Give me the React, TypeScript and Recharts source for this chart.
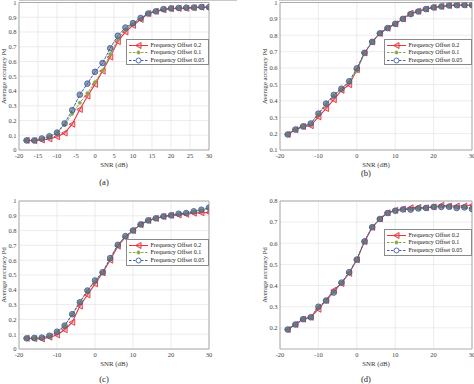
import React from 'react';
import { LineChart, Line, XAxis, YAxis, CartesianGrid, ReferenceArea, Legend, Label } from 'recharts';

const snr = [-18, -16, -14, -12, -10, -8, -6, -4, -2, 0, 2, 4, 6, 8, 10, 12, 14, 16, 18, 20, 22, 24, 26, 28, 30];

const aRed = [0.065, 0.063, 0.068, 0.075, 0.09, 0.115, 0.175, 0.275, 0.365, 0.445, 0.535, 0.63, 0.735, 0.8, 0.845, 0.885, 0.925, 0.94, 0.95, 0.958, 0.96, 0.96, 0.965, 0.968, 0.965];
const aGreen = [0.065, 0.065, 0.075, 0.09, 0.115, 0.17, 0.245, 0.32, 0.385, 0.46, 0.54, 0.65, 0.75, 0.815, 0.855, 0.89, 0.925, 0.94, 0.953, 0.96, 0.962, 0.963, 0.965, 0.968, 0.967];
const aBlue = [0.065, 0.065, 0.078, 0.093, 0.118, 0.18, 0.27, 0.375, 0.45, 0.53, 0.59, 0.69, 0.775, 0.83, 0.86, 0.895, 0.925, 0.94, 0.955, 0.96, 0.963, 0.965, 0.966, 0.97, 0.968];

const bRed = [0.195, 0.224, 0.243, 0.248, 0.302, 0.353, 0.407, 0.464, 0.498, 0.59, 0.692, 0.759, 0.811, 0.843, 0.869, 0.9, 0.935, 0.947, 0.96, 0.97, 0.976, 0.981, 0.984, 0.985, 0.983];
const bGreen = [0.195, 0.224, 0.243, 0.26, 0.318, 0.378, 0.43, 0.472, 0.515, 0.58, 0.692, 0.76, 0.811, 0.844, 0.87, 0.9, 0.93, 0.946, 0.96, 0.97, 0.976, 0.982, 0.984, 0.985, 0.984];
const bBlue = [0.195, 0.225, 0.244, 0.262, 0.322, 0.383, 0.436, 0.474, 0.519, 0.598, 0.693, 0.76, 0.812, 0.844, 0.87, 0.9, 0.929, 0.945, 0.96, 0.97, 0.976, 0.982, 0.984, 0.985, 0.984];

const cRed = [0.072, 0.07, 0.068, 0.08, 0.095, 0.13, 0.18, 0.29, 0.365, 0.44, 0.515, 0.6, 0.695, 0.755, 0.8, 0.84, 0.868, 0.882, 0.895, 0.903, 0.905, 0.91, 0.918, 0.92, 0.922];
const cGreen = [0.072, 0.073, 0.076, 0.088, 0.114, 0.155, 0.232, 0.313, 0.39, 0.455, 0.516, 0.61, 0.702, 0.76, 0.8, 0.84, 0.868, 0.882, 0.896, 0.903, 0.912, 0.917, 0.928, 0.938, 0.95];
const cBlue = [0.072, 0.074, 0.077, 0.09, 0.117, 0.158, 0.235, 0.316, 0.395, 0.463, 0.519, 0.614, 0.704, 0.763, 0.801, 0.842, 0.869, 0.883, 0.896, 0.903, 0.914, 0.919, 0.93, 0.941, 0.955];

const dRed = [0.192, 0.216, 0.241, 0.25, 0.288, 0.33, 0.378, 0.41, 0.458, 0.522, 0.608, 0.675, 0.715, 0.744, 0.756, 0.762, 0.768, 0.77, 0.768, 0.772, 0.78, 0.776, 0.776, 0.776, 0.78];
const dGreen = [0.192, 0.216, 0.241, 0.25, 0.298, 0.328, 0.37, 0.412, 0.461, 0.523, 0.609, 0.676, 0.715, 0.743, 0.755, 0.761, 0.762, 0.766, 0.768, 0.772, 0.774, 0.774, 0.77, 0.771, 0.766];
const dBlue = [0.192, 0.216, 0.241, 0.25, 0.3, 0.329, 0.367, 0.414, 0.463, 0.523, 0.609, 0.676, 0.715, 0.743, 0.754, 0.76, 0.759, 0.765, 0.767, 0.772, 0.772, 0.773, 0.767, 0.77, 0.762];

const xTicksA = [-20, -15, -10, -5, 0, 5, 10, 15, 20, 25, 30];
const xTicksB = [-20, -10, 0, 10, 20, 30];
const yTicks01 = [0, 0.1, 0.2, 0.3, 0.4, 0.5, 0.6, 0.7, 0.8, 0.9, 1];
const yTicksB = [0.1, 0.2, 0.3, 0.4, 0.5, 0.6, 0.7, 0.8, 0.9, 1];
const yTicksD = [0.2, 0.3, 0.4, 0.5, 0.6, 0.7, 0.8];

const seriesNames = ['Frequency Offset 0.2', 'Frequency Offset 0.1', 'Frequency Offset 0.05'];
const xLabelText = 'SNR (dB)';
const yLabelText = 'Average accuracy Pd';
const captions = ['(a)', '(b)', '(c)', '(d)'];

const FONT = '"Liberation Serif", "Times New Roman", Times, serif';
const RED = '#e8323c';
const GREEN = '#86ad45';
const BLUE = '#3f5fae';
const TICK_COLOR = '#444';

function TriMarker({ cx, cy }: { cx: number; cy: number }) {
  const s = 3;
  return (
    <path
      d={`M${cx - s},${cy} L${cx + s * 0.85},${cy - s} L${cx + s * 0.85},${cy + s} Z`}
      stroke={RED}
      strokeWidth={0.9}
      fill="rgba(225,110,120,0.4)"
    />
  );
}
function DotMarker({ cx, cy }: { cx: number; cy: number }) {
  return <circle cx={cx} cy={cy} r={1.7} fill={GREEN} stroke={GREEN} strokeWidth={0.5} />;
}
function CircMarker({ cx, cy }: { cx: number; cy: number }) {
  return <circle cx={cx} cy={cy} r={2.8} fill="rgba(85,95,110,0.6)" stroke={BLUE} strokeWidth={0.9} />;
}

const renderTri = (p: any) => (p.cx == null ? <g key={p.index} /> : <TriMarker key={p.index} cx={p.cx} cy={p.cy} />);
const renderDot = (p: any) => (p.cx == null ? <g key={p.index} /> : <DotMarker key={p.index} cx={p.cx} cy={p.cy} />);
const renderCirc = (p: any) => (p.cx == null ? <g key={p.index} /> : <CircMarker key={p.index} cx={p.cx} cy={p.cy} />);

function LegendBox({ width, height }: { width: number; height: number }) {
  const rows = [
    { name: seriesNames[0], color: RED, dash: undefined as string | undefined, marker: 'tri' },
    { name: seriesNames[1], color: GREEN, dash: '2.5 1.5', marker: 'dot' },
    { name: seriesNames[2], color: BLUE, dash: '2.5 1.5', marker: 'circ' },
  ];
  return (
    <div
      style={{
        width,
        height,
        boxSizing: 'border-box',
        border: '0.8px solid #8a8a8a',
        background: '#fff',
        fontFamily: FONT,
        fontSize: 6,
        color: '#222',
        paddingTop: 1.5,
      }}
    >
      {rows.map((r) => (
        <div key={r.name} style={{ display: 'flex', alignItems: 'center', height: 7.6, lineHeight: '7.6px' }}>
          <svg width={21} height={7} style={{ marginLeft: 1, marginRight: 1.5, flex: 'none' }}>
            <line x1={1} y1={3.5} x2={20} y2={3.5} stroke={r.color} strokeWidth={1} strokeDasharray={r.dash} />
            {r.marker === 'tri' && <TriMarker cx={10.5} cy={3.5} />}
            {r.marker === 'dot' && <DotMarker cx={10.5} cy={3.5} />}
            {r.marker === 'circ' && <circle cx={10.5} cy={3.5} r={2.5} fill="#fff" stroke={BLUE} strokeWidth={0.9} />}
          </svg>
          <span style={{ whiteSpace: 'nowrap' }}>{r.name}</span>
        </div>
      ))}
    </div>
  );
}

type PanelProps = {
  red: number[];
  green: number[];
  blue: number[];
  xTicks: number[];
  yTicks: number[];
  yDomain: [number, number];
  margin: { top: number; right: number; bottom: number; left: number };
  yAxisWidth: number;
  yLabelOffset: number;
  legend: { left: number; top: number; width: number; height: number };
};

function Panel(props: PanelProps) {
  const { red, green, blue, xTicks, yTicks, yDomain, margin, yAxisWidth, yLabelOffset, legend } = props;
  const data = snr.map((x, i) => ({ snr: x, r: red[i], g: green[i], b: blue[i] }));
  const tickStyle = { fontFamily: FONT, fontSize: 6.5, fill: TICK_COLOR };
  return (
    <LineChart width={237} height={192} data={data} margin={margin}>
      <CartesianGrid stroke="#e4e4e4" strokeWidth={0.7} horizontalValues={yTicks} verticalValues={xTicks} />
      <XAxis
        dataKey="snr"
        type="number"
        domain={[-20, 30]}
        ticks={xTicks}
        interval={0}
        allowDataOverflow
        axisLine={false}
        tickLine={false}
        tickSize={0}
        tickMargin={3.5}
        height={18}
        tick={tickStyle}
      >
        <Label
          value={xLabelText}
          position="insideBottom"
          offset={1.5}
          style={{ fontFamily: FONT, fontSize: 6.8, fill: '#333' }}
        />
      </XAxis>
      <YAxis
        type="number"
        domain={yDomain}
        ticks={yTicks}
        interval={0}
        allowDataOverflow
        axisLine={false}
        tickLine={false}
        tickSize={0}
        tickMargin={2.5}
        width={yAxisWidth}
        tick={tickStyle}
      >
        <Label
          value={yLabelText}
          angle={-90}
          position="insideLeft"
          offset={yLabelOffset}
          style={{ fontFamily: FONT, fontSize: 6.6, fill: '#333', textAnchor: 'middle' }}
        />
      </YAxis>
      <ReferenceArea
        x1={-20}
        x2={30}
        y1={yDomain[0]}
        y2={yDomain[1]}
        fill="none"
        stroke="#9a9a9a"
        strokeWidth={0.8}
        ifOverflow="visible"
      />
      <Line dataKey="r" stroke={RED} strokeWidth={1.1} dot={renderTri} isAnimationActive={false} />
      <Line dataKey="g" stroke={GREEN} strokeWidth={1} strokeDasharray="3 1" dot={renderDot} isAnimationActive={false} />
      <Line dataKey="b" stroke={BLUE} strokeWidth={1} strokeDasharray="3 1" dot={renderCirc} isAnimationActive={false} />
      <Legend
        layout="horizontal"
        verticalAlign="middle"
        align="center"
        wrapperStyle={{ left: legend.left, top: legend.top, width: legend.width, height: legend.height }}
        content={() => <LegendBox width={legend.width} height={legend.height} />}
      />
    </LineChart>
  );
}

const capStyle: React.CSSProperties = {
  position: 'absolute',
  fontFamily: FONT,
  fontSize: 8.5,
  color: '#222',
  width: 40,
  textAlign: 'center',
  lineHeight: '10px',
};

export default function App() {
  return (
    <div style={{ position: 'absolute', left: 0, top: 0, width: 474, height: 384, background: '#fff', overflow: 'hidden' }}>
      <div style={{ position: 'absolute', left: 0, top: 0 }}>
        <Panel
          red={aRed}
          green={aGreen}
          blue={aBlue}
          xTicks={xTicksA}
          yTicks={yTicks01}
          yDomain={[0, 1]}
          margin={{ top: 2.5, right: 28, bottom: 24, left: 0 }}
          yAxisWidth={19}
          yLabelOffset={4}
          legend={{ left: 126, top: 39, width: 83, height: 26 }}
        />
      </div>
      <div style={{ position: 'absolute', left: 237, top: 0 }}>
        <Panel
          red={bRed}
          green={bGreen}
          blue={bBlue}
          xTicks={xTicksB}
          yTicks={yTicksB}
          yDomain={[0.1, 1]}
          margin={{ top: 2.5, right: 2, bottom: 24, left: 0 }}
          yAxisWidth={43}
          yLabelOffset={28}
          legend={{ left: 147, top: 39, width: 88, height: 26 }}
        />
      </div>
      <div style={{ position: 'absolute', left: 0, top: 192 }}>
        <Panel
          red={cRed}
          green={cGreen}
          blue={cBlue}
          xTicks={xTicksB}
          yTicks={yTicks01}
          yDomain={[0, 1]}
          margin={{ top: 9, right: 28, bottom: 17, left: 0 }}
          yAxisWidth={19}
          yLabelOffset={4}
          legend={{ left: 126, top: 47, width: 83, height: 27 }}
        />
      </div>
      <div style={{ position: 'absolute', left: 237, top: 192 }}>
        <Panel
          red={dRed}
          green={dGreen}
          blue={dBlue}
          xTicks={xTicksB}
          yTicks={yTicksD}
          yDomain={[0.1, 0.8]}
          margin={{ top: 9, right: 2, bottom: 17, left: 0 }}
          yAxisWidth={43}
          yLabelOffset={28}
          legend={{ left: 147, top: 37, width: 88, height: 27 }}
        />
      </div>
      <div style={{ position: 'absolute', left: 19, top: 0, width: 218, height: 1.2, background: '#c9c9c9' }} />
      <div style={{ position: 'absolute', left: 279, top: 0, width: 195, height: 1.2, background: '#c9c9c9' }} />
      <div style={{ ...capStyle, left: 84, top: 177 }}>{captions[0]}</div>
      <div style={{ ...capStyle, left: 346, top: 168 }}>{captions[1]}</div>
      <div style={{ ...capStyle, left: 84, top: 374 }}>{captions[2]}</div>
      <div style={{ ...capStyle, left: 346, top: 374 }}>{captions[3]}</div>
    </div>
  );
}
